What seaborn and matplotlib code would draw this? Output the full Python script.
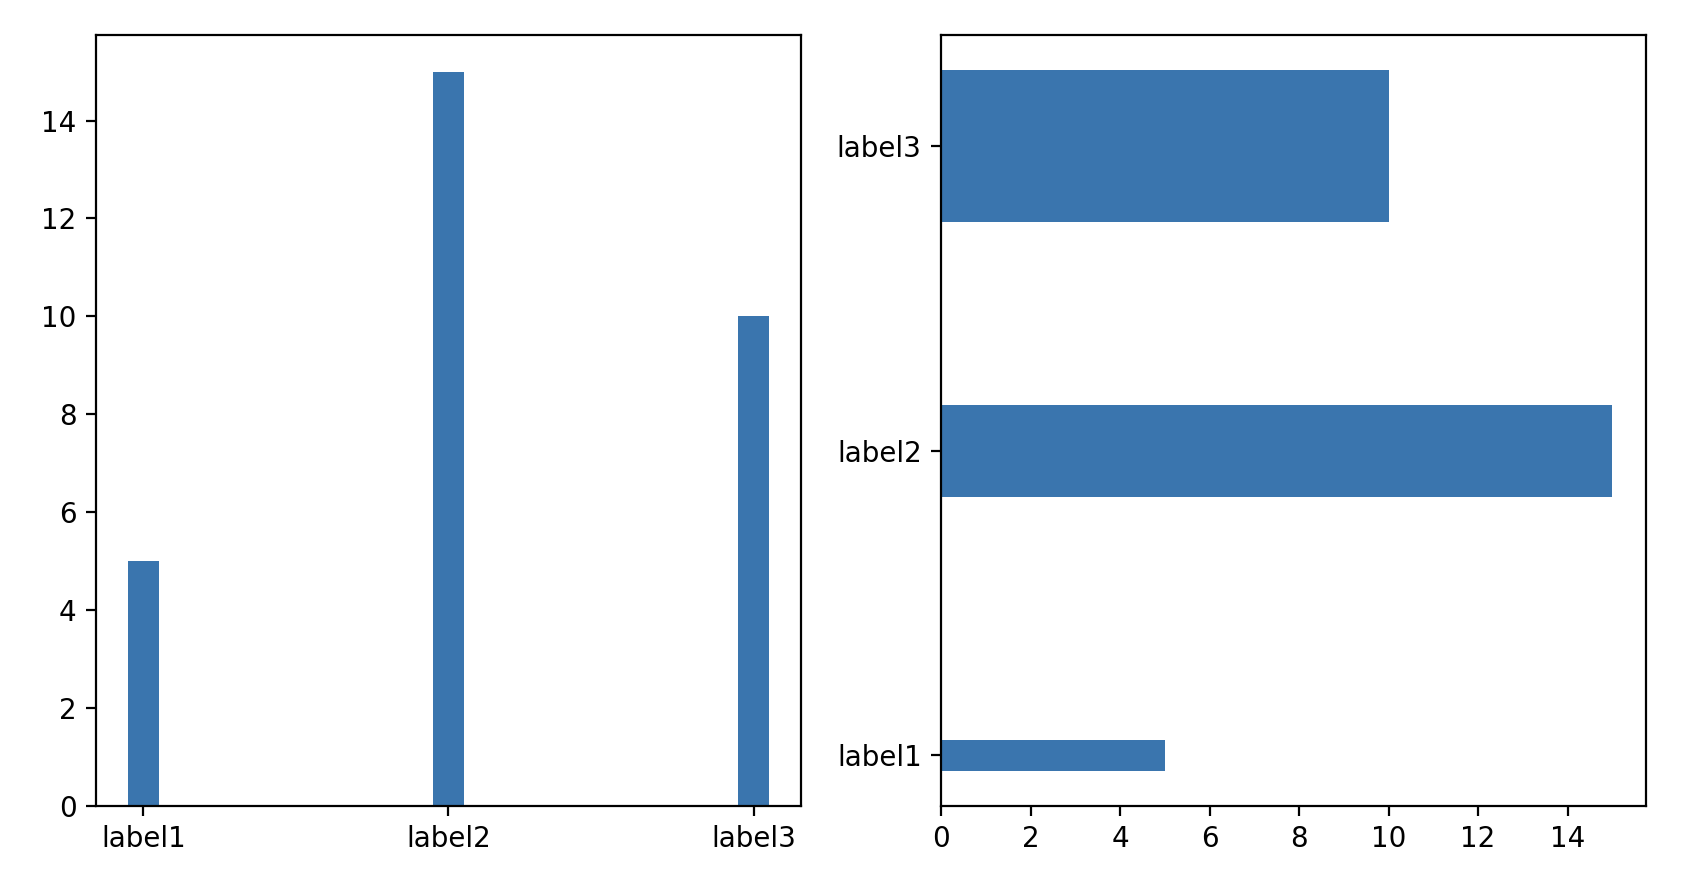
import matplotlib
matplotlib.use("Agg")
import matplotlib.pyplot as plt
import seaborn as sns

labels = ["label1", "label2", "label3"]
values = [5, 15, 10]

bar_color = "#3a75ae"
# thickness of each horizontal bar on the right panel
thickness = [0.1, 0.3, 0.5]

fig, (ax1, ax2) = plt.subplots(1, 2, figsize=(8.46, 4.46), dpi=200)
fig.subplots_adjust(left=0.0568, right=0.9727, bottom=0.0967, top=0.9608, wspace=0.199)

# left: thin vertical bars
sns.barplot(x=labels, y=values, width=0.1, color=bar_color, saturation=1, ax=ax1)
ax1.set_xlim(-0.155, 2.155)
ax1.set_ylim(0, 15.75)
ax1.set_xlabel("")
ax1.set_ylabel("")

# right: horizontal bars, one call per bar so each gets its own thickness
for lab, val, w in zip(labels, values, thickness):
  sns.barplot(x=[val], y=[lab], order=labels, orient="h", width=w,
              color=bar_color, saturation=1, ax=ax2)
ax2.set_ylim(-0.165, 2.365)
ax2.set_xlim(0, 15.75)
ax2.set_xlabel("")
ax2.set_ylabel("")

for ax in (ax1, ax2):
  for s in ax.spines.values():
    s.set_visible(True)
    s.set_color("black")
  ax.tick_params(length=3.5, width=0.8)

plt.savefig("out.png", dpi=200)
